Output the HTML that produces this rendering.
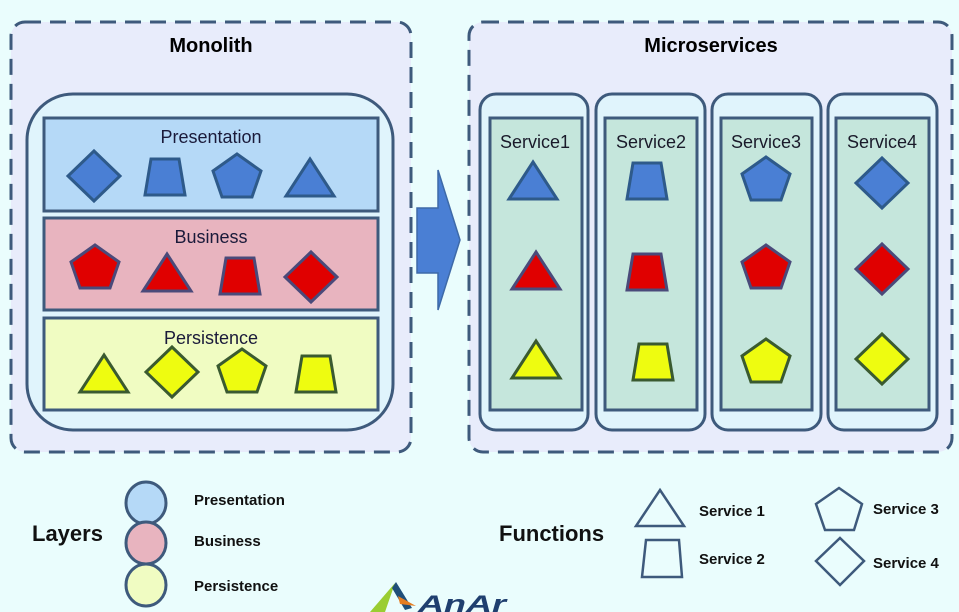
<!DOCTYPE html>
<html><head><meta charset="utf-8"><style>
html,body{margin:0;padding:0;background:#eafdfd;}
svg{display:block;font-family:"Liberation Sans",sans-serif;}
</style></head><body>
<svg width="959" height="612" viewBox="0 0 959 612" xmlns="http://www.w3.org/2000/svg">
<defs>
<polygon id="dia" points="0,-25 26,0 0,25 -26,0" stroke-width="3"/>
<polygon id="trap" points="-14,-18 14,-18 20,18 -20,18" stroke-width="3"/>
<polygon id="pent" points="0,-23 24,-6 15,20 -15,20 -24,-6" stroke-width="3"/>
<polygon id="tri" points="0,-19 24,18 -24,18" stroke-width="3"/>
</defs>
<rect width="959" height="612" fill="#eafdfd"/>
<!-- Monolith -->
<rect x="11" y="22" width="400" height="430" rx="14" fill="#e8ecfb" stroke="#3e5a7c" stroke-width="3" stroke-dasharray="16,9"/>
<text x="211" y="52" text-anchor="middle" font-size="20" font-weight="bold" fill="#000">Monolith</text>
<rect x="27" y="94" width="366" height="336" rx="46" fill="#e0f4fc" stroke="#3e5a7c" stroke-width="3"/>
<rect x="44" y="118" width="334" height="93" fill="#b5d9f7" stroke="#3e5a7c" stroke-width="3"/>
<rect x="44" y="218" width="334" height="92" fill="#e8b4bf" stroke="#3e5a7c" stroke-width="3"/>
<rect x="44" y="318" width="334" height="92" fill="#f0fcc2" stroke="#3e5a7c" stroke-width="3"/>
<g font-size="18" fill="#1a1a3a" text-anchor="middle">
<text x="211" y="143">Presentation</text>
<text x="211" y="243">Business</text>
<text x="211" y="344">Persistence</text>
</g>
<g fill="#4a7fd4" stroke="#2e5a8a">
<use href="#dia" x="94" y="176"/><use href="#trap" x="165" y="177"/><use href="#pent" x="237" y="177"/><use href="#tri" x="310" y="178"/>
</g>
<g fill="#e00000" stroke="#4a4a7a">
<use href="#pent" x="95" y="268"/><use href="#tri" x="167" y="273"/><use href="#trap" x="240" y="276"/><use href="#dia" x="311" y="277"/>
</g>
<g fill="#eefc10" stroke="#3a5a30">
<use href="#tri" x="104" y="374"/><use href="#dia" x="172" y="372"/><use href="#pent" x="242" y="372"/><use href="#trap" x="316" y="374"/>
</g>
<!-- arrow -->
<polygon points="417,208 438,208 438,170 460,240 438,310 438,273 417,273" fill="#4a7fd4" stroke="#3e6aa8" stroke-width="1.5"/>
<!-- Microservices -->
<rect x="469" y="22" width="483" height="430" rx="14" fill="#e8ecfb" stroke="#3e5a7c" stroke-width="3" stroke-dasharray="16,9"/>
<text x="711" y="52" text-anchor="middle" font-size="20" font-weight="bold" fill="#000">Microservices</text>
<g stroke="#3e5a7c" stroke-width="3">
<rect x="480" y="94" width="108" height="336" rx="16" fill="#e0f4fc"/>
<rect x="596" y="94" width="109" height="336" rx="16" fill="#e0f4fc"/>
<rect x="712" y="94" width="109" height="336" rx="16" fill="#e0f4fc"/>
<rect x="828" y="94" width="109" height="336" rx="16" fill="#e0f4fc"/>
<rect x="490" y="118" width="92" height="292" fill="#c5e6dc"/>
<rect x="605" y="118" width="92" height="292" fill="#c5e6dc"/>
<rect x="721" y="118" width="91" height="292" fill="#c5e6dc"/>
<rect x="836" y="118" width="93" height="292" fill="#c5e6dc"/>
</g>
<g font-size="18" fill="#1a1a2a" text-anchor="middle">
<text x="535" y="148">Service1</text>
<text x="651" y="148">Service2</text>
<text x="766" y="148">Service3</text>
<text x="882" y="148">Service4</text>
</g>
<g fill="#4a7fd4" stroke="#2e5a8a">
<use href="#tri" x="533" y="181"/><use href="#trap" x="647" y="181"/><use href="#pent" x="766" y="180"/><use href="#dia" x="882" y="183"/>
</g>
<g fill="#e00000" stroke="#4a4a7a">
<use href="#tri" x="536" y="271"/><use href="#trap" x="647" y="272"/><use href="#pent" x="766" y="268"/><use href="#dia" x="882" y="269"/>
</g>
<g fill="#eefc10" stroke="#3a5a30">
<use href="#tri" x="536" y="360"/><use href="#trap" x="653" y="362"/><use href="#pent" x="766" y="362"/><use href="#dia" x="882" y="359"/>
</g>
<!-- Legend -->
<text x="32" y="541" font-size="22" font-weight="bold" fill="#111">Layers</text>
<g stroke="#3e5a7c" stroke-width="3">
<ellipse cx="146" cy="503" rx="20" ry="21" fill="#b5d9f7"/>
<ellipse cx="146" cy="543" rx="20" ry="21" fill="#e8b4bf"/>
<ellipse cx="146" cy="585" rx="20" ry="21" fill="#f0fcc2"/>
</g>
<g font-size="15" font-weight="bold" fill="#111">
<text x="194" y="505">Presentation</text>
<text x="194" y="546">Business</text>
<text x="194" y="591">Persistence</text>
<text x="699" y="516">Service 1</text>
<text x="699" y="564">Service 2</text>
<text x="873" y="514">Service 3</text>
<text x="873" y="568">Service 4</text>
</g>
<text x="499" y="541" font-size="22" font-weight="bold" fill="#111">Functions</text>
<g fill="none" stroke="#3e5a7c" stroke-width="2.5">
<polygon points="660,490 684,526 636,526"/>
<polygon points="646,540 679,540 682,577 642,577"/>
<polygon points="839,488 862,504 854,530 825,530 816,504"/>
<polygon points="840,538 864,561 840,585 816,561"/>
</g>
<!-- logo -->
<polygon points="370,612 395,583 385,612" fill="#9acd32"/>
<polygon points="396,582 412,608 405,610 392,588" fill="#1f4e79"/>
<polygon points="398,596 416,606 400,604" fill="#e67e22"/>
<text x="418" y="612" font-size="24" font-weight="bold" font-style="italic" fill="#1f3f6f" textLength="88" lengthAdjust="spacingAndGlyphs">AnAr</text>
</svg>
</body></html>
